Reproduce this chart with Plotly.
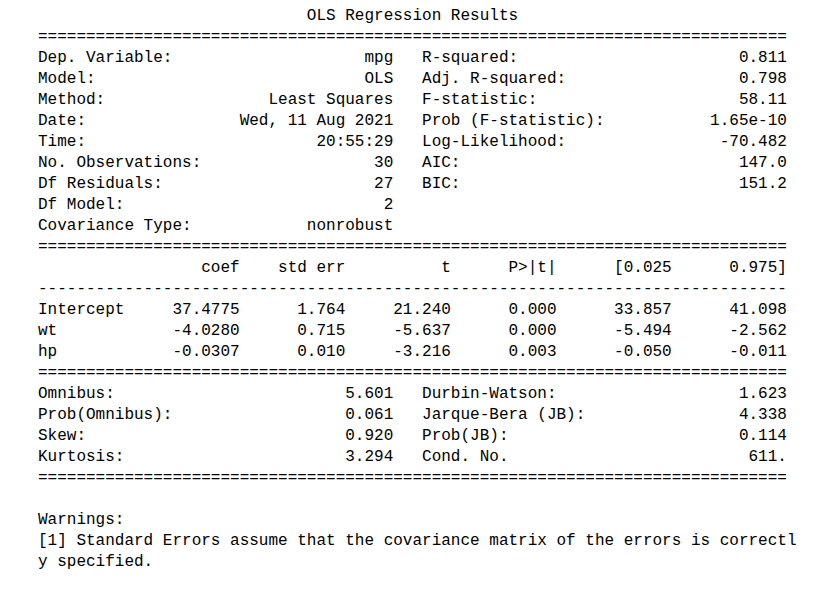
import plotly.graph_objects as go

title = "OLS Regression Results"
top_left_labels = ["Dep. Variable:", "Model:", "Method:", "Date:", "Time:",
                   "No. Observations:", "Df Residuals:", "Df Model:", "Covariance Type:"]
top_left_values = ["mpg", "OLS", "Least Squares", "Wed, 11 Aug 2021", "20:55:29",
                   "30", "27", "2", "nonrobust"]
top_right_labels = ["R-squared:", "Adj. R-squared:", "F-statistic:", "Prob (F-statistic):",
                    "Log-Likelihood:", "AIC:", "BIC:", "", ""]
top_right_values = ["0.811", "0.798", "58.11", "1.65e-10", "-70.482", "147.0", "151.2", "", ""]

coef_headers = ["coef", "std err", "t", "P>|t|", "[0.025", "0.975]"]
coef_names = ["Intercept", "wt", "hp"]
coef = ["37.4775", "-4.0280", "-0.0307"]
std_err = ["1.764", "0.715", "0.010"]
t_vals = ["21.240", "-5.637", "-3.216"]
p_vals = ["0.000", "0.000", "0.003"]
ci_low = ["33.857", "-5.494", "-0.050"]
ci_high = ["41.098", "-2.562", "-0.011"]

bot_left_labels = ["Omnibus:", "Prob(Omnibus):", "Skew:", "Kurtosis:"]
bot_left_values = ["5.601", "0.061", "0.920", "3.294"]
bot_right_labels = ["Durbin-Watson:", "Jarque-Bera (JB):", "Prob(JB):", "Cond. No."]
bot_right_values = ["1.623", "4.338", "0.114", "611."]

warn_lines = ["Warnings:",
              "[1] Standard Errors assume that the covariance matrix of the errors is correctl",
              "y specified."]

W = 78
def half_row(ll, lv, rl, rv):
    left = ll + lv.rjust(37 - len(ll))
    right = (rl + rv.rjust(38 - len(rl))) if rl else ""
    return left + "   " + right

lines = [title.center(W).rstrip(), "=" * W]
for i in range(len(top_left_labels)):
    lines.append(half_row(top_left_labels[i], top_left_values[i], top_right_labels[i], top_right_values[i]))
lines.append("=" * W)
widths = [11, 11, 11, 11, 12, 12]
lines.append(" " * 10 + "".join(h.rjust(w) for h, w in zip(coef_headers, widths)))
lines.append("-" * W)
for i, n in enumerate(coef_names):
    vals = [coef[i], std_err[i], t_vals[i], p_vals[i], ci_low[i], ci_high[i]]
    lines.append(n.ljust(10) + "".join(v.rjust(w) for v, w in zip(vals, widths)))
lines.append("=" * W)
for i in range(len(bot_left_labels)):
    lines.append(half_row(bot_left_labels[i], bot_left_values[i], bot_right_labels[i], bot_right_values[i]))
lines.append("=" * W)
lines.append("")
lines.extend(warn_lines)

H = 591
fig = go.Figure()
annotations = []
for i, ln in enumerate(lines):
    if not ln:
        continue
    y_px = 8 + 21 * i
    annotations.append(dict(
        x=28 / 822, y=1 - y_px / H, xref="paper", yref="paper",
        xanchor="left", yanchor="middle", showarrow=False,
        text=ln.replace(" ", "\u00a0"),
        font=dict(family="Liberation Mono, DejaVu Sans Mono, monospace", size=16, color="#000000"),
    ))
fig.update_layout(
    width=822, height=591, margin=dict(l=0, r=0, t=0, b=0),
    paper_bgcolor="white", plot_bgcolor="white",
    xaxis=dict(visible=False, range=[0, 1]), yaxis=dict(visible=False, range=[0, 1]),
    annotations=annotations, showlegend=False,
)
fig.write_html("out.html")
